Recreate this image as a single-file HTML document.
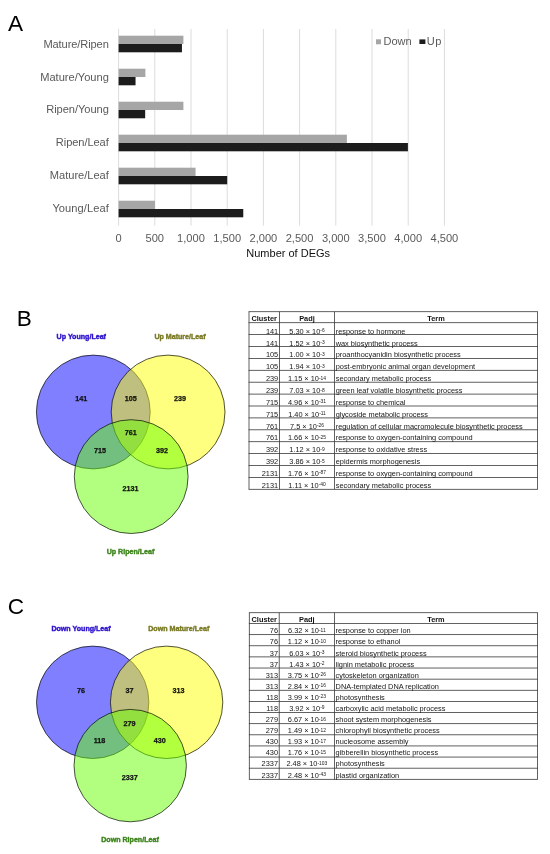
<!DOCTYPE html>
<html><head><meta charset="utf-8"><title>Figure</title>
<style>html,body{margin:0;padding:0;background:#fff}svg{display:block}text{font-family:"Liberation Sans",sans-serif}.pl{font-size:22.6px;fill:#000}.cat{font-size:11.1px;fill:#595959;text-anchor:end}.tick{font-size:11.1px;fill:#595959;text-anchor:middle}.leg{font-size:11.05px;fill:#595959}.ax{font-size:11px;fill:#111;text-anchor:middle}.vn{font-size:7.2px;font-weight:bold;fill:#111;stroke:#111;stroke-width:0.25px;text-anchor:middle}.vl{font-size:7.1px;font-weight:bold;text-anchor:middle}.th{font-size:7.38px;font-weight:bold;fill:#111;text-anchor:middle}.tc{font-size:7.38px;fill:#161616;text-anchor:end}.tp{font-size:7.38px;fill:#161616;text-anchor:middle}.tt{font-size:7.38px;fill:#161616}.sup{font-size:4.9px}</style></head><body>
<svg width="550" height="854" viewBox="0 0 550 854">
<rect width="550" height="854" fill="#fff"/>
<text class="pl" x="7.9" y="31">A</text>
<rect x="118.10" y="29.0" width="1" height="196.6" fill="#dcdcdc"/>
<rect x="154.30" y="29.0" width="1" height="196.6" fill="#dcdcdc"/>
<rect x="190.50" y="29.0" width="1" height="196.6" fill="#dcdcdc"/>
<rect x="226.70" y="29.0" width="1" height="196.6" fill="#dcdcdc"/>
<rect x="262.90" y="29.0" width="1" height="196.6" fill="#dcdcdc"/>
<rect x="299.10" y="29.0" width="1" height="196.6" fill="#dcdcdc"/>
<rect x="335.30" y="29.0" width="1" height="196.6" fill="#dcdcdc"/>
<rect x="371.50" y="29.0" width="1" height="196.6" fill="#dcdcdc"/>
<rect x="407.70" y="29.0" width="1" height="196.6" fill="#dcdcdc"/>
<rect x="443.90" y="29.0" width="1" height="196.6" fill="#dcdcdc"/>
<rect x="118.60" y="35.70" width="64.80" height="8.3" fill="#a6a6a6"/>
<rect x="118.60" y="44.00" width="63.35" height="8.3" fill="#1c1c1c"/>
<text class="cat" x="108.8" y="48.00" textLength="65.4" lengthAdjust="spacing">Mature/Ripen</text>
<rect x="118.60" y="68.70" width="26.79" height="8.3" fill="#a6a6a6"/>
<rect x="118.60" y="77.00" width="16.94" height="8.3" fill="#1c1c1c"/>
<text class="cat" x="108.8" y="80.70" textLength="68.6" lengthAdjust="spacing">Mature/Young</text>
<rect x="118.60" y="101.70" width="64.80" height="8.3" fill="#a6a6a6"/>
<rect x="118.60" y="110.00" width="26.57" height="8.3" fill="#1c1c1c"/>
<text class="cat" x="108.8" y="113.40" textLength="62.6" lengthAdjust="spacing">Ripen/Young</text>
<rect x="118.60" y="134.70" width="228.28" height="8.3" fill="#a6a6a6"/>
<rect x="118.60" y="143.00" width="289.31" height="8.3" fill="#1c1c1c"/>
<text class="cat" x="108.8" y="146.10" textLength="53.0" lengthAdjust="spacing">Ripen/Leaf</text>
<rect x="118.60" y="167.70" width="76.96" height="8.3" fill="#a6a6a6"/>
<rect x="118.60" y="176.00" width="108.60" height="8.3" fill="#1c1c1c"/>
<text class="cat" x="108.8" y="178.80" textLength="59.0" lengthAdjust="spacing">Mature/Leaf</text>
<rect x="118.60" y="200.70" width="36.34" height="8.3" fill="#a6a6a6"/>
<rect x="118.60" y="209.00" width="124.67" height="8.3" fill="#1c1c1c"/>
<text class="cat" x="108.8" y="211.50" textLength="56.4" lengthAdjust="spacing">Young/Leaf</text>
<text class="tick" x="118.60" y="242.3">0</text>
<text class="tick" x="154.80" y="242.3">500</text>
<text class="tick" x="191.00" y="242.3">1,000</text>
<text class="tick" x="227.20" y="242.3">1,500</text>
<text class="tick" x="263.40" y="242.3">2,000</text>
<text class="tick" x="299.60" y="242.3">2,500</text>
<text class="tick" x="335.80" y="242.3">3,000</text>
<text class="tick" x="372.00" y="242.3">3,500</text>
<text class="tick" x="408.20" y="242.3">4,000</text>
<text class="tick" x="444.40" y="242.3">4,500</text>
<text class="ax" x="288.2" y="256.7">Number of DEGs</text>
<rect x="376" y="39.3" width="5" height="5" fill="#a6a6a6"/>
<text class="leg" x="383.5" y="45.3">Down</text>
<rect x="419.4" y="39.4" width="6" height="4.6" fill="#1c1c1c"/>
<text class="leg" x="426.8" y="45.3" textLength="14.6" lengthAdjust="spacing">Up</text>
<text class="pl" x="16.8" y="325.9">B</text>
<g stroke="#000" stroke-opacity="0.68" stroke-width="1">
<circle cx="93.3" cy="412" r="56.9" fill="#0000ff" fill-opacity="0.5"/>
<circle cx="168.1" cy="412" r="56.9" fill="#ffff00" fill-opacity="0.5"/>
<circle cx="131.2" cy="476.6" r="56.9" fill="#66ff00" fill-opacity="0.5"/>
</g>
<text class="vl" x="81.3" y="339.3" fill="#2c12cc" stroke="#2c12cc" stroke-width="0.4">Up Young/Leaf</text>
<text class="vl" x="180.0" y="339.3" fill="#7a7a24" stroke="#7a7a24" stroke-width="0.4">Up Mature/Leaf</text>
<text class="vl" x="130.5" y="553.8" fill="#3d841b" stroke="#3d841b" stroke-width="0.4">Up Ripen/Leaf</text>
<text class="vn" x="81.3" y="401.1">141</text>
<text class="vn" x="130.7" y="401.1">105</text>
<text class="vn" x="180" y="401.1">239</text>
<text class="vn" x="130.7" y="434.9">761</text>
<text class="vn" x="99.9" y="452.7">715</text>
<text class="vn" x="162.1" y="452.7">392</text>
<text class="vn" x="130.5" y="491.3">2131</text>
<text class="pl" x="7.7" y="614.2">C</text>
<g stroke="#000" stroke-opacity="0.68" stroke-width="1">
<circle cx="92.7" cy="702.3" r="56.2" fill="#0000ff" fill-opacity="0.5"/>
<circle cx="166.6" cy="702.3" r="56.2" fill="#ffff00" fill-opacity="0.5"/>
<circle cx="130.2" cy="765.6" r="56.2" fill="#66ff00" fill-opacity="0.5"/>
</g>
<text class="vl" x="81" y="631.0" fill="#2c12cc" stroke="#2c12cc" stroke-width="0.4">Down Young/Leaf</text>
<text class="vl" x="178.8" y="631.0" fill="#7a7a24" stroke="#7a7a24" stroke-width="0.4">Down Mature/Leaf</text>
<text class="vl" x="130" y="842.3" fill="#3d841b" stroke="#3d841b" stroke-width="0.4">Down Ripen/Leaf</text>
<text class="vn" x="81" y="692.5">76</text>
<text class="vn" x="129.5" y="692.5">37</text>
<text class="vn" x="178.5" y="692.5">313</text>
<text class="vn" x="129.5" y="726">279</text>
<text class="vn" x="99.5" y="742.7">118</text>
<text class="vn" x="159.8" y="742.7">430</text>
<text class="vn" x="129.7" y="780.4">2337</text>
<rect x="248.60" y="311.30" width="289.20" height="0.8" fill="#3a3a3a"/>
<rect x="248.60" y="322.30" width="289.20" height="0.8" fill="#3a3a3a"/>
<rect x="248.60" y="334.20" width="289.20" height="0.8" fill="#3a3a3a"/>
<rect x="248.60" y="346.10" width="289.20" height="0.8" fill="#3a3a3a"/>
<rect x="248.60" y="358.00" width="289.20" height="0.8" fill="#3a3a3a"/>
<rect x="248.60" y="369.90" width="289.20" height="0.8" fill="#3a3a3a"/>
<rect x="248.60" y="381.80" width="289.20" height="0.8" fill="#3a3a3a"/>
<rect x="248.60" y="393.70" width="289.20" height="0.8" fill="#3a3a3a"/>
<rect x="248.60" y="405.60" width="289.20" height="0.8" fill="#3a3a3a"/>
<rect x="248.60" y="417.50" width="289.20" height="0.8" fill="#3a3a3a"/>
<rect x="248.60" y="429.40" width="289.20" height="0.8" fill="#3a3a3a"/>
<rect x="248.60" y="441.30" width="289.20" height="0.8" fill="#3a3a3a"/>
<rect x="248.60" y="453.20" width="289.20" height="0.8" fill="#3a3a3a"/>
<rect x="248.60" y="465.10" width="289.20" height="0.8" fill="#3a3a3a"/>
<rect x="248.60" y="477.00" width="289.20" height="0.8" fill="#3a3a3a"/>
<rect x="248.60" y="488.90" width="289.20" height="0.8" fill="#3a3a3a"/>
<rect x="248.60" y="311.70" width="0.8" height="177.60" fill="#3a3a3a"/>
<rect x="279.00" y="311.70" width="0.8" height="177.60" fill="#3a3a3a"/>
<rect x="334.20" y="311.70" width="0.8" height="177.60" fill="#3a3a3a"/>
<rect x="537.00" y="311.70" width="0.8" height="177.60" fill="#3a3a3a"/>
<text class="th" x="264.20" y="321.40">Cluster</text>
<text class="th" x="307.00" y="321.40">Padj</text>
<text class="th" x="436.00" y="321.40">Term</text>
<text class="tc" x="278.20" y="333.76">141</text>
<text class="tp" x="307.00" y="333.76">5.30 × 10<tspan class="sup" dy="-1.5">-6</tspan></text>
<text class="tt" x="335.70" y="333.76">response to hormone</text>
<text class="tc" x="278.20" y="345.61">141</text>
<text class="tp" x="307.00" y="345.61">1.52 × 10<tspan class="sup" dy="-1.5">-3</tspan></text>
<text class="tt" x="335.70" y="345.61">wax biosynthetic process</text>
<text class="tc" x="278.20" y="357.46">105</text>
<text class="tp" x="307.00" y="357.46">1.00 × 10<tspan class="sup" dy="-1.5">-3</tspan></text>
<text class="tt" x="335.70" y="357.46">proanthocyanidin biosynthetic process</text>
<text class="tc" x="278.20" y="369.32">105</text>
<text class="tp" x="307.00" y="369.32">1.94 × 10<tspan class="sup" dy="-1.5">-3</tspan></text>
<text class="tt" x="335.70" y="369.32">post-embryonic animal organ development</text>
<text class="tc" x="278.20" y="381.17">239</text>
<text class="tp" x="307.00" y="381.17">1.15 × 10<tspan class="sup" dy="-1.5">-14</tspan></text>
<text class="tt" x="335.70" y="381.17">secondary metabolic process</text>
<text class="tc" x="278.20" y="393.02">239</text>
<text class="tp" x="307.00" y="393.02">7.03 × 10<tspan class="sup" dy="-1.5">-8</tspan></text>
<text class="tt" x="335.70" y="393.02">green leaf volatile biosynthetic process</text>
<text class="tc" x="278.20" y="404.87">715</text>
<text class="tp" x="307.00" y="404.87">4.96 × 10<tspan class="sup" dy="-1.5">-31</tspan></text>
<text class="tt" x="335.70" y="404.87">response to chemical</text>
<text class="tc" x="278.20" y="416.73">715</text>
<text class="tp" x="307.00" y="416.73">1.40 × 10<tspan class="sup" dy="-1.5">-11</tspan></text>
<text class="tt" x="335.70" y="416.73">glycoside metabolic process</text>
<text class="tc" x="278.20" y="428.58">761</text>
<text class="tp" x="307.00" y="428.58">7.5 × 10<tspan class="sup" dy="-1.5">-26</tspan></text>
<text class="tt" x="335.70" y="428.58">regulation of cellular macromolecule biosynthetic process</text>
<text class="tc" x="278.20" y="440.43">761</text>
<text class="tp" x="307.00" y="440.43">1.66 × 10<tspan class="sup" dy="-1.5">-25</tspan></text>
<text class="tt" x="335.70" y="440.43">response to oxygen-containing compound</text>
<text class="tc" x="278.20" y="452.29">392</text>
<text class="tp" x="307.00" y="452.29">1.12 × 10<tspan class="sup" dy="-1.5">-9</tspan></text>
<text class="tt" x="335.70" y="452.29">response to oxidative stress</text>
<text class="tc" x="278.20" y="464.14">392</text>
<text class="tp" x="307.00" y="464.14">3.86 × 10<tspan class="sup" dy="-1.5">-5</tspan></text>
<text class="tt" x="335.70" y="464.14">epidermis morphogenesis</text>
<text class="tc" x="278.20" y="475.99">2131</text>
<text class="tp" x="307.00" y="475.99">1.76 × 10<tspan class="sup" dy="-1.5">-87</tspan></text>
<text class="tt" x="335.70" y="475.99">response to oxygen-containing compound</text>
<text class="tc" x="278.20" y="487.85">2131</text>
<text class="tp" x="307.00" y="487.85">1.11 × 10<tspan class="sup" dy="-1.5">-40</tspan></text>
<text class="tt" x="335.70" y="487.85">secondary metabolic process</text>
<rect x="248.90" y="612.30" width="288.90" height="0.8" fill="#3a3a3a"/>
<rect x="248.90" y="623.10" width="288.90" height="0.8" fill="#3a3a3a"/>
<rect x="248.90" y="634.23" width="288.90" height="0.8" fill="#3a3a3a"/>
<rect x="248.90" y="645.36" width="288.90" height="0.8" fill="#3a3a3a"/>
<rect x="248.90" y="656.49" width="288.90" height="0.8" fill="#3a3a3a"/>
<rect x="248.90" y="667.62" width="288.90" height="0.8" fill="#3a3a3a"/>
<rect x="248.90" y="678.75" width="288.90" height="0.8" fill="#3a3a3a"/>
<rect x="248.90" y="689.88" width="288.90" height="0.8" fill="#3a3a3a"/>
<rect x="248.90" y="701.01" width="288.90" height="0.8" fill="#3a3a3a"/>
<rect x="248.90" y="712.14" width="288.90" height="0.8" fill="#3a3a3a"/>
<rect x="248.90" y="723.27" width="288.90" height="0.8" fill="#3a3a3a"/>
<rect x="248.90" y="734.40" width="288.90" height="0.8" fill="#3a3a3a"/>
<rect x="248.90" y="745.53" width="288.90" height="0.8" fill="#3a3a3a"/>
<rect x="248.90" y="756.66" width="288.90" height="0.8" fill="#3a3a3a"/>
<rect x="248.90" y="767.79" width="288.90" height="0.8" fill="#3a3a3a"/>
<rect x="248.90" y="778.92" width="288.90" height="0.8" fill="#3a3a3a"/>
<rect x="248.90" y="612.70" width="0.8" height="166.62" fill="#3a3a3a"/>
<rect x="278.80" y="612.70" width="0.8" height="166.62" fill="#3a3a3a"/>
<rect x="334.10" y="612.70" width="0.8" height="166.62" fill="#3a3a3a"/>
<rect x="537.00" y="612.70" width="0.8" height="166.62" fill="#3a3a3a"/>
<text class="th" x="264.25" y="622.04">Cluster</text>
<text class="th" x="306.85" y="622.04">Padj</text>
<text class="th" x="435.95" y="622.04">Term</text>
<text class="tc" x="278.00" y="633.33">76</text>
<text class="tp" x="306.85" y="633.33">6.32 × 10<tspan class="sup" dy="-1.5">-11</tspan></text>
<text class="tt" x="335.60" y="633.33">response to copper ion</text>
<text class="tc" x="278.00" y="644.42">76</text>
<text class="tp" x="306.85" y="644.42">1.12 × 10<tspan class="sup" dy="-1.5">-10</tspan></text>
<text class="tt" x="335.60" y="644.42">response to ethanol</text>
<text class="tc" x="278.00" y="655.51">37</text>
<text class="tp" x="306.85" y="655.51">6.03 × 10<tspan class="sup" dy="-1.5">-3</tspan></text>
<text class="tt" x="335.60" y="655.51">steroid biosynthetic process</text>
<text class="tc" x="278.00" y="666.60">37</text>
<text class="tp" x="306.85" y="666.60">1.43 × 10<tspan class="sup" dy="-1.5">-2</tspan></text>
<text class="tt" x="335.60" y="666.60">lignin metabolic process</text>
<text class="tc" x="278.00" y="677.69">313</text>
<text class="tp" x="306.85" y="677.69">3.75 × 10<tspan class="sup" dy="-1.5">-26</tspan></text>
<text class="tt" x="335.60" y="677.69">cytoskeleton organization</text>
<text class="tc" x="278.00" y="688.78">313</text>
<text class="tp" x="306.85" y="688.78">2.84 × 10<tspan class="sup" dy="-1.5">-16</tspan></text>
<text class="tt" x="335.60" y="688.78">DNA-templated DNA replication</text>
<text class="tc" x="278.00" y="699.87">118</text>
<text class="tp" x="306.85" y="699.87">3.99 × 10<tspan class="sup" dy="-1.5">-23</tspan></text>
<text class="tt" x="335.60" y="699.87">photosynthesis</text>
<text class="tc" x="278.00" y="710.96">118</text>
<text class="tp" x="306.85" y="710.96">3.92 × 10<tspan class="sup" dy="-1.5">-9</tspan></text>
<text class="tt" x="335.60" y="710.96">carboxylic acid metabolic process</text>
<text class="tc" x="278.00" y="722.05">279</text>
<text class="tp" x="306.85" y="722.05">6.67 × 10<tspan class="sup" dy="-1.5">-16</tspan></text>
<text class="tt" x="335.60" y="722.05">shoot system morphogenesis</text>
<text class="tc" x="278.00" y="733.14">279</text>
<text class="tp" x="306.85" y="733.14">1.49 × 10<tspan class="sup" dy="-1.5">-12</tspan></text>
<text class="tt" x="335.60" y="733.14">chlorophyll biosynthetic process</text>
<text class="tc" x="278.00" y="744.23">430</text>
<text class="tp" x="306.85" y="744.23">1.93 × 10<tspan class="sup" dy="-1.5">-17</tspan></text>
<text class="tt" x="335.60" y="744.23">nucleosome assembly</text>
<text class="tc" x="278.00" y="755.32">430</text>
<text class="tp" x="306.85" y="755.32">1.76 × 10<tspan class="sup" dy="-1.5">-15</tspan></text>
<text class="tt" x="335.60" y="755.32">gibberellin biosynthetic process</text>
<text class="tc" x="278.00" y="766.41">2337</text>
<text class="tp" x="306.85" y="766.41">2.48 × 10<tspan class="sup" dy="-1.5">-103</tspan></text>
<text class="tt" x="335.60" y="766.41">photosynthesis</text>
<text class="tc" x="278.00" y="777.50">2337</text>
<text class="tp" x="306.85" y="777.50">2.48 × 10<tspan class="sup" dy="-1.5">-43</tspan></text>
<text class="tt" x="335.60" y="777.50">plastid organization</text>
</svg></body></html>
